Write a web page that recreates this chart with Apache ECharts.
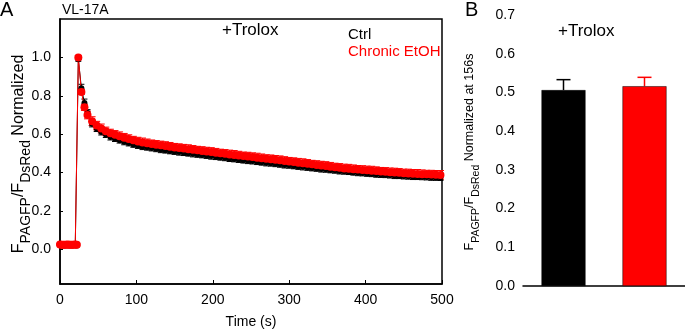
<!DOCTYPE html>
<html>
<head>
<meta charset="utf-8">
<script src="https://cdn.jsdelivr.net/npm/echarts@6/dist/echarts.min.js"></script>
<style>
  html, body { margin: 0; padding: 0; background: #fff; }
  #main { width: 685px; height: 334px; }
</style>
</head>
<body>
<div id="main"></div>
<script>
// time points (s)
var times = [
  0, 2, 4, 6, 8, 10, 12, 14, 16, 18, 20, 22,
  24, 28, 32, 36,
  42, 48, 54, 60, 66, 72, 78, 84, 90, 96,
  102, 108, 114, 120, 126, 132, 138, 144, 150, 156,
  162, 168, 174, 180, 186, 192, 198, 204, 210, 216,
  222, 228, 234, 240, 246, 252, 258, 264, 270, 276,
  282, 288, 294, 300, 306, 312, 318, 324, 330, 336,
  342, 348, 354, 360, 366, 372, 378, 384, 390, 396,
  402, 408, 414, 420, 426, 432, 438, 444, 450, 456,
  462, 468, 474, 480, 486, 492, 498
];

var ctrlMean = [
  0.022, 0.021, 0.022, 0.021, 0.022, 0.022, 0.021, 0.022, 0.021, 0.022, 0.022, 0.021,
  0.99, 0.84, 0.763, 0.71,
  0.655, 0.630, 0.612, 0.598, 0.586, 0.577, 0.569, 0.561, 0.554, 0.547,
  0.541, 0.536, 0.532, 0.528, 0.524, 0.520, 0.517, 0.513, 0.510, 0.507,
  0.504, 0.501, 0.498, 0.495, 0.492, 0.489, 0.486, 0.483, 0.480, 0.477,
  0.474, 0.471, 0.468, 0.465, 0.463, 0.460, 0.457, 0.454, 0.451, 0.449,
  0.446, 0.443, 0.440, 0.438, 0.435, 0.432, 0.430, 0.427, 0.424, 0.422,
  0.419, 0.417, 0.414, 0.412, 0.409, 0.407, 0.405, 0.402, 0.400, 0.398,
  0.396, 0.394, 0.392, 0.390, 0.389, 0.387, 0.385, 0.384, 0.382, 0.381,
  0.380, 0.379, 0.378, 0.377, 0.376, 0.375, 0.374
];
var ctrlErr = [
  0.004, 0.004, 0.004, 0.004, 0.004, 0.004, 0.004, 0.004, 0.004, 0.004, 0.004, 0.004,
  0.010, 0.020, 0.020, 0.018,
  0.017, 0.016, 0.016, 0.015, 0.016, 0.015, 0.015, 0.016, 0.015, 0.015,
  0.015, 0.016, 0.015, 0.015, 0.015, 0.016, 0.015, 0.015, 0.015, 0.016,
  0.015, 0.015, 0.016, 0.015, 0.015, 0.015, 0.016, 0.015, 0.015, 0.015,
  0.016, 0.015, 0.015, 0.015, 0.016, 0.015, 0.015, 0.015, 0.016, 0.015,
  0.015, 0.015, 0.016, 0.015, 0.015, 0.015, 0.016, 0.015, 0.015, 0.015,
  0.016, 0.015, 0.015, 0.015, 0.016, 0.015, 0.015, 0.015, 0.016, 0.015,
  0.015, 0.015, 0.016, 0.015, 0.015, 0.015, 0.016, 0.015, 0.015, 0.015,
  0.016, 0.015, 0.015, 0.015, 0.016, 0.015, 0.015
];

var etohMean = [
  0.026, 0.025, 0.025, 0.024, 0.025, 0.026, 0.025, 0.025, 0.024, 0.025, 0.026, 0.025,
  1.0, 0.82, 0.74, 0.70,
  0.668, 0.645, 0.630, 0.615, 0.605, 0.597, 0.589, 0.582, 0.575, 0.568,
  0.562, 0.557, 0.553, 0.549, 0.545, 0.542, 0.538, 0.535, 0.531, 0.528,
  0.525, 0.522, 0.519, 0.516, 0.513, 0.510, 0.507, 0.504, 0.501, 0.498,
  0.495, 0.492, 0.489, 0.486, 0.484, 0.481, 0.478, 0.475, 0.472, 0.470,
  0.467, 0.464, 0.461, 0.458, 0.455, 0.452, 0.449, 0.446, 0.443, 0.440,
  0.437, 0.434, 0.431, 0.428, 0.425, 0.422, 0.420, 0.418, 0.416, 0.414,
  0.412, 0.410, 0.408, 0.406, 0.404, 0.402, 0.400, 0.399, 0.397, 0.396,
  0.394, 0.393, 0.392, 0.391, 0.390, 0.389, 0.388
];
var etohErr = [
  0.004, 0.004, 0.004, 0.004, 0.004, 0.004, 0.004, 0.004, 0.004, 0.004, 0.004, 0.004,
  0.008, 0.012, 0.016, 0.020,
  0.023, 0.022, 0.023, 0.022, 0.021, 0.022, 0.023, 0.022, 0.022, 0.021,
  0.022, 0.023, 0.022, 0.021, 0.022, 0.022, 0.023, 0.022, 0.021, 0.022,
  0.022, 0.023, 0.022, 0.021, 0.022, 0.022, 0.023, 0.022, 0.021, 0.022,
  0.022, 0.023, 0.022, 0.021, 0.022, 0.022, 0.023, 0.022, 0.021, 0.022,
  0.022, 0.023, 0.022, 0.021, 0.022, 0.022, 0.023, 0.022, 0.021, 0.022,
  0.022, 0.023, 0.022, 0.021, 0.022, 0.022, 0.023, 0.022, 0.021, 0.022,
  0.022, 0.023, 0.022, 0.021, 0.022, 0.022, 0.023, 0.022, 0.021, 0.022,
  0.022, 0.023, 0.022, 0.021, 0.022, 0.022, 0.023
];

var yTicksA = [0, 0.2, 0.4, 0.6, 0.8, 1.0];

// panel B: value at 156 s
var barGroups = ['Ctrl', 'Chronic EtOH'];
var barMeans = [0.506, 0.516];
var barErrs = [0.027, 0.023];
var barColors = ['#000000', '#ff0000'];

var FONT = '"Liberation Sans", Arial, sans-serif';

function pairs(mean, err) {
  return times.map(function (t, i) { return [t, mean[i], err[i]]; });
}

function errRender(color, cap, upOnly) {
  return function (params, api) {
    var x = api.value(0), y = api.value(1), e = api.value(2);
    var top = api.coord([x, y + e]);
    var bot = api.coord(upOnly ? [x, y] : [x, y - e]);
    var style = { stroke: color, lineWidth: upOnly ? 1.5 : 1 };
    var kids = [
      { type: 'line', shape: { x1: top[0], y1: top[1], x2: bot[0], y2: bot[1] }, style: style },
      { type: 'line', shape: { x1: top[0] - cap, y1: top[1], x2: top[0] + cap, y2: top[1] }, style: style }
    ];
    if (!upOnly) {
      kids.push({ type: 'line', shape: { x1: bot[0] - cap, y1: bot[1], x2: bot[0] + cap, y2: bot[1] }, style: style });
    }
    return { type: 'group', children: kids };
  };
}

var chart = echarts.init(document.getElementById('main'), null, { renderer: 'canvas' });

var axisLine = { onZero: false, lineStyle: { color: '#000', width: 1.5 } };
var labelStyle = { color: '#000', fontSize: 14, fontFamily: FONT };

var option = {
  animation: false,
  backgroundColor: '#fff',
  textStyle: { fontFamily: FONT },
  grid: [
    { left: 60, top: 19, width: 382, height: 266, show: true, borderColor: '#000', borderWidth: 1.5 },
    { left: 523, top: 15, right: 0, height: 271 }
  ],
  xAxis: [
    {
      gridIndex: 0, type: 'value', min: 0, max: 500, interval: 100,
      name: 'Time (s)', nameLocation: 'middle', nameGap: 31,
      nameTextStyle: { color: '#000', fontSize: 14, fontFamily: FONT },
      axisLine: axisLine,
      axisTick: { inside: true, length: 4, lineStyle: { color: '#000', width: 1 } },
      axisLabel: Object.assign({ margin: 9 }, labelStyle),
      splitLine: { show: false }
    },
    {
      gridIndex: 1, type: 'category', data: barGroups,
      axisLine: axisLine, axisTick: { show: false }, axisLabel: { show: false }
    }
  ],
  yAxis: [
    {
      gridIndex: 0, type: 'value', min: -0.18, max: 1.2,
      axisLine: axisLine,
      axisTick: { inside: true, length: 3, customValues: yTicksA, lineStyle: { color: '#000', width: 1 } },
      axisLabel: Object.assign({
        margin: 9, customValues: yTicksA,
        formatter: function (v) { return v.toFixed(1); }
      }, labelStyle),
      splitLine: { show: false }
    },
    {
      gridIndex: 1, type: 'value', min: 0, max: 0.7, interval: 0.1,
      axisLine: axisLine,
      axisTick: { length: 4, lineStyle: { color: '#000', width: 1 } },
      axisLabel: Object.assign({
        margin: 8, formatter: function (v) { return v.toFixed(1); }
      }, labelStyle),
      splitLine: { show: false }
    }
  ],
  legend: {
    left: 338, top: 22, orient: 'vertical', icon: 'none', itemWidth: 0, itemGap: 2,
    textStyle: { fontSize: 15, fontFamily: FONT },
    data: [
      { name: 'Ctrl', textStyle: { color: '#000' } },
      { name: 'Chronic EtOH', textStyle: { color: '#ff0000' } }
    ]
  },
  graphic: [
    { type: 'text', left: 0, top: 0, style: { text: 'A', fontSize: 20, fontFamily: FONT, fill: '#000' } },
    { type: 'text', left: 62, top: 3, style: { text: 'VL-17A', fontSize: 14, fontFamily: FONT, fill: '#000' } },
    { type: 'text', left: 222, top: 22, style: { text: '+Trolox', fontSize: 17, fontFamily: FONT, fill: '#000' } },
    { type: 'text', left: 465, top: 0, style: { text: 'B', fontSize: 20, fontFamily: FONT, fill: '#000' } },
    { type: 'text', left: 558, top: 23, style: { text: '+Trolox', fontSize: 17, fontFamily: FONT, fill: '#000' } },
    {
      type: 'text', x: 21, y: 154, rotation: Math.PI / 2,
      style: {
        text: '{f|F}{s|PAGFP}{f|/F}{s|DsRed}{f| Normalized}',
        align: 'center', verticalAlign: 'middle', fill: '#000',
        rich: {
          f: { fontSize: 16, fontFamily: FONT, lineHeight: 24, verticalAlign: 'top', padding: [2, 0, 0, 0] },
          s: { fontSize: 14, fontFamily: FONT, lineHeight: 24, verticalAlign: 'bottom' }
        }
      }
    },
    {
      type: 'text', x: 472, y: 152, rotation: Math.PI / 2,
      style: {
        text: '{f|F}{s|PAGFP}{f|/F}{s|DsRed}{f| Normalized at 156s}',
        align: 'center', verticalAlign: 'middle', fill: '#000',
        rich: {
          f: { fontSize: 12.5, fontFamily: FONT, lineHeight: 19, verticalAlign: 'top', padding: [1, 0, 0, 0] },
          s: { fontSize: 10.5, fontFamily: FONT, lineHeight: 19, verticalAlign: 'bottom' }
        }
      }
    }
  ],
  series: [
    {
      type: 'custom', name: 'ctrlErr', xAxisIndex: 0, yAxisIndex: 0,
      data: pairs(ctrlMean, ctrlErr), renderItem: errRender('#000', 3, false),
      encode: { x: 0, y: 1 }, silent: true
    },
    {
      type: 'line', name: 'Ctrl', xAxisIndex: 0, yAxisIndex: 0,
      data: pairs(ctrlMean, ctrlErr).map(function (d) { return [d[0], d[1]]; }),
      symbol: 'circle', symbolSize: 6, showAllSymbol: true,
      itemStyle: { color: '#000' }, lineStyle: { color: '#000', width: 1 }
    },
    {
      type: 'custom', name: 'etohErr', xAxisIndex: 0, yAxisIndex: 0,
      data: pairs(etohMean, etohErr), renderItem: errRender('#ff0000', 3.5, false),
      encode: { x: 0, y: 1 }, silent: true
    },
    {
      type: 'line', name: 'Chronic EtOH', xAxisIndex: 0, yAxisIndex: 0,
      data: pairs(etohMean, etohErr).map(function (d) { return [d[0], d[1]]; }),
      symbol: 'circle', symbolSize: 8, showAllSymbol: true,
      itemStyle: { color: '#ff0000' }, lineStyle: { color: '#ff0000', width: 1 }
    },
    {
      type: 'bar', xAxisIndex: 1, yAxisIndex: 1, barWidth: 44,
      data: barMeans.map(function (v, i) {
        return { value: v, itemStyle: { color: barColors[i], borderColor: '#000', borderWidth: 0.5 } };
      })
    },
    {
      type: 'custom', xAxisIndex: 1, yAxisIndex: 1, silent: true,
      data: barMeans.map(function (v, i) { return [i, v, barErrs[i]]; }),
      encode: { x: 0, y: 1 },
      renderItem: function (params, api) {
        var i = params.dataIndex;
        return errRender(barColors[i], 7, true)(params, api);
      }
    }
  ]
};

chart.setOption(option);
</script>
</body>
</html>
